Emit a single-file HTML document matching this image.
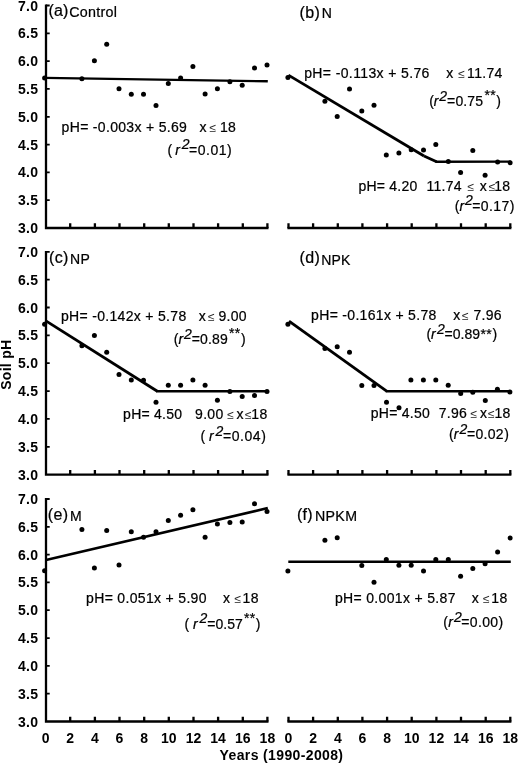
<!DOCTYPE html>
<html lang="en"><head><meta charset="utf-8"><title>Soil pH</title>
<style>html,body{margin:0;padding:0;background:#fff}svg{display:block}text{font-family:"Liberation Sans",sans-serif;fill:#000}.b{font-weight:bold;font-size:14px}.t{font-size:14px;letter-spacing:0.3px;stroke:#000;stroke-width:.22px}.le{font-size:12.5px;fill:#333}.i{font-style:italic}.ax{stroke:#000;stroke-width:2.3;fill:none;stroke-linecap:butt;stroke-linejoin:miter}.tk{stroke:#000;stroke-width:1.8;fill:none}.ln{stroke:#000;stroke-width:2.6;fill:none;stroke-linejoin:round;stroke-linecap:butt}</style></head><body>
<svg width="518" height="763" viewBox="0 0 518 763">
<rect width="518" height="763" fill="#fff"/>
<path class="ax" d="M46.0 4.6V228.0H268.5"/>
<path class="tk" d="M46.0 5.5h3.7M46.0 33.3h3.7M46.0 61.1h3.7M46.0 88.9h3.7M46.0 116.8h3.7M46.0 144.6h3.7M46.0 172.4h3.7M46.0 200.2h3.7"/>
<text class="b" x="38.4" y="10.5" text-anchor="end" style="letter-spacing:.3px">7.0</text>
<text class="b" x="38.4" y="38.3" text-anchor="end" style="letter-spacing:.3px">6.5</text>
<text class="b" x="38.4" y="66.1" text-anchor="end" style="letter-spacing:.3px">6.0</text>
<text class="b" x="38.4" y="93.9" text-anchor="end" style="letter-spacing:.3px">5.5</text>
<text class="b" x="38.4" y="121.8" text-anchor="end" style="letter-spacing:.3px">5.0</text>
<text class="b" x="38.4" y="149.6" text-anchor="end" style="letter-spacing:.3px">4.5</text>
<text class="b" x="38.4" y="177.4" text-anchor="end" style="letter-spacing:.3px">4.0</text>
<text class="b" x="38.4" y="205.2" text-anchor="end" style="letter-spacing:.3px">3.5</text>
<text class="b" x="38.4" y="233.0" text-anchor="end" style="letter-spacing:.3px">3.0</text>
<path class="ax" d="M70.2 228.0v-4.7M94.9 228.0v-4.7M119.5 228.0v-4.7M144.2 228.0v-4.7M168.8 228.0v-4.7M193.5 228.0v-4.7M218.1 228.0v-4.7M242.8 228.0v-4.7M267.4 228.0v-4.7"/>
<path class="ln" style="stroke-width:2.4" d="M45.0 77.9L267.8 81.3"/>
<g><circle cx="44.6" cy="77.9" r="2.5"/><circle cx="81.9" cy="78.8" r="2.5"/><circle cx="94.4" cy="60.7" r="2.5"/><circle cx="106.7" cy="44.3" r="2.5"/><circle cx="119.0" cy="88.8" r="2.5"/><circle cx="131.3" cy="94.3" r="2.5"/><circle cx="143.5" cy="94.3" r="2.5"/><circle cx="156.0" cy="105.4" r="2.5"/><circle cx="168.3" cy="83.4" r="2.5"/><circle cx="180.6" cy="77.9" r="2.5"/><circle cx="192.9" cy="66.5" r="2.5"/><circle cx="205.1" cy="94.1" r="2.5"/><circle cx="217.4" cy="88.8" r="2.5"/><circle cx="229.9" cy="81.8" r="2.5"/><circle cx="242.2" cy="85.3" r="2.5"/><circle cx="254.5" cy="67.9" r="2.5"/><circle cx="267.0" cy="65.1" r="2.5"/></g>
<path class="ax" d="M287.4 228.0H511.4"/>
<path class="ax" d="M288.5 228.0v-4.7M313.1 228.0v-4.7M337.8 228.0v-4.7M362.4 228.0v-4.7M387.1 228.0v-4.7M411.7 228.0v-4.7M436.4 228.0v-4.7M461.0 228.0v-4.7M485.7 228.0v-4.7M510.3 228.0v-4.7"/>
<path class="ln" style="stroke-width:2.85" d="M288.4 75.1L424.0 156.0"/>
<path class="ln" style="stroke-width:2.85" d="M424.0 156.0L436.6 161.7"/>
<path class="ln" style="stroke-width:2.4" d="M435.4 161.7L510.8 161.6"/>
<g><circle cx="287.9" cy="77.5" r="2.5"/><circle cx="324.9" cy="101.2" r="2.5"/><circle cx="337.2" cy="116.5" r="2.5"/><circle cx="349.5" cy="88.9" r="2.5"/><circle cx="361.8" cy="110.9" r="2.5"/><circle cx="374.0" cy="105.3" r="2.5"/><circle cx="386.3" cy="155.0" r="2.5"/><circle cx="398.9" cy="153.0" r="2.5"/><circle cx="411.2" cy="149.7" r="2.5"/><circle cx="423.5" cy="150.0" r="2.5"/><circle cx="435.8" cy="144.4" r="2.5"/><circle cx="448.3" cy="161.6" r="2.5"/><circle cx="460.6" cy="172.4" r="2.5"/><circle cx="472.8" cy="150.4" r="2.5"/><circle cx="485.1" cy="175.2" r="2.5"/><circle cx="497.6" cy="162.0" r="2.5"/><circle cx="510.1" cy="162.7" r="2.5"/></g>
<path class="ax" d="M46.0 250.9V474.6H268.5"/>
<path class="tk" d="M46.0 251.8h3.7M46.0 279.7h3.7M46.0 307.5h3.7M46.0 335.4h3.7M46.0 363.2h3.7M46.0 391.1h3.7M46.0 418.9h3.7M46.0 446.8h3.7"/>
<text class="b" x="38.4" y="256.8" text-anchor="end" style="letter-spacing:.3px">7.0</text>
<text class="b" x="38.4" y="284.7" text-anchor="end" style="letter-spacing:.3px">6.5</text>
<text class="b" x="38.4" y="312.5" text-anchor="end" style="letter-spacing:.3px">6.0</text>
<text class="b" x="38.4" y="340.4" text-anchor="end" style="letter-spacing:.3px">5.5</text>
<text class="b" x="38.4" y="368.2" text-anchor="end" style="letter-spacing:.3px">5.0</text>
<text class="b" x="38.4" y="396.1" text-anchor="end" style="letter-spacing:.3px">4.5</text>
<text class="b" x="38.4" y="423.9" text-anchor="end" style="letter-spacing:.3px">4.0</text>
<text class="b" x="38.4" y="451.8" text-anchor="end" style="letter-spacing:.3px">3.5</text>
<text class="b" x="38.4" y="479.6" text-anchor="end" style="letter-spacing:.3px">3.0</text>
<path class="ax" d="M70.2 474.6v-4.7M94.9 474.6v-4.7M119.5 474.6v-4.7M144.2 474.6v-4.7M168.8 474.6v-4.7M193.5 474.6v-4.7M218.1 474.6v-4.7M242.8 474.6v-4.7M267.4 474.6v-4.7"/>
<path class="ln" style="stroke-width:2.85" d="M45.5 320.6L157.3 391.3"/>
<path class="ln" style="stroke-width:2.4" d="M156.1 391.3L267.8 391.3"/>
<g><circle cx="44.6" cy="324.3" r="2.5"/><circle cx="81.9" cy="345.8" r="2.5"/><circle cx="94.4" cy="335.6" r="2.5"/><circle cx="106.7" cy="352.3" r="2.5"/><circle cx="119.0" cy="374.5" r="2.5"/><circle cx="131.3" cy="379.9" r="2.5"/><circle cx="143.5" cy="380.3" r="2.5"/><circle cx="156.0" cy="402.2" r="2.5"/><circle cx="168.3" cy="385.3" r="2.5"/><circle cx="180.6" cy="385.3" r="2.5"/><circle cx="192.9" cy="380.0" r="2.5"/><circle cx="205.1" cy="385.3" r="2.5"/><circle cx="217.4" cy="400.2" r="2.5"/><circle cx="229.9" cy="391.6" r="2.5"/><circle cx="242.2" cy="396.5" r="2.5"/><circle cx="254.5" cy="395.5" r="2.5"/><circle cx="267.0" cy="391.6" r="2.5"/></g>
<path class="ax" d="M287.4 474.6H511.4"/>
<path class="ax" d="M288.5 474.6v-4.7M313.1 474.6v-4.7M337.8 474.6v-4.7M362.4 474.6v-4.7M387.1 474.6v-4.7M411.7 474.6v-4.7M436.4 474.6v-4.7M461.0 474.6v-4.7M485.7 474.6v-4.7M510.3 474.6v-4.7"/>
<path class="ln" style="stroke-width:2.85" d="M289.0 321.2L387.0 391.3"/>
<path class="ln" style="stroke-width:2.4" d="M385.8 391.3L510.8 391.3"/>
<g><circle cx="287.9" cy="324.3" r="2.5"/><circle cx="324.9" cy="348.6" r="2.5"/><circle cx="337.2" cy="346.7" r="2.5"/><circle cx="349.5" cy="352.3" r="2.5"/><circle cx="361.8" cy="385.4" r="2.5"/><circle cx="374.0" cy="385.4" r="2.5"/><circle cx="386.5" cy="402.2" r="2.5"/><circle cx="399.0" cy="407.8" r="2.5"/><circle cx="410.9" cy="380.1" r="2.5"/><circle cx="423.4" cy="380.1" r="2.5"/><circle cx="435.8" cy="380.1" r="2.5"/><circle cx="448.2" cy="385.3" r="2.5"/><circle cx="460.7" cy="393.6" r="2.5"/><circle cx="472.8" cy="392.3" r="2.5"/><circle cx="485.3" cy="400.4" r="2.5"/><circle cx="497.4" cy="389.3" r="2.5"/><circle cx="509.9" cy="392.0" r="2.5"/></g>
<path class="ax" d="M46.0 498.1V721.5H268.5"/>
<path class="tk" d="M46.0 499.0h3.7M46.0 526.8h3.7M46.0 554.6h3.7M46.0 582.4h3.7M46.0 610.2h3.7M46.0 638.1h3.7M46.0 665.9h3.7M46.0 693.7h3.7"/>
<text class="b" x="38.4" y="504.0" text-anchor="end" style="letter-spacing:.3px">7.0</text>
<text class="b" x="38.4" y="531.8" text-anchor="end" style="letter-spacing:.3px">6.5</text>
<text class="b" x="38.4" y="559.6" text-anchor="end" style="letter-spacing:.3px">6.0</text>
<text class="b" x="38.4" y="587.4" text-anchor="end" style="letter-spacing:.3px">5.5</text>
<text class="b" x="38.4" y="615.2" text-anchor="end" style="letter-spacing:.3px">5.0</text>
<text class="b" x="38.4" y="643.1" text-anchor="end" style="letter-spacing:.3px">4.5</text>
<text class="b" x="38.4" y="670.9" text-anchor="end" style="letter-spacing:.3px">4.0</text>
<text class="b" x="38.4" y="698.7" text-anchor="end" style="letter-spacing:.3px">3.5</text>
<text class="b" x="38.4" y="726.5" text-anchor="end" style="letter-spacing:.3px">3.0</text>
<path class="ax" d="M70.2 721.5v-4.7M94.9 721.5v-4.7M119.5 721.5v-4.7M144.2 721.5v-4.7M168.8 721.5v-4.7M193.5 721.5v-4.7M218.1 721.5v-4.7M242.8 721.5v-4.7M267.4 721.5v-4.7"/>
<text class="b" x="45.6" y="743.2" text-anchor="middle">0</text>
<text class="b" x="70.2" y="743.2" text-anchor="middle">2</text>
<text class="b" x="94.9" y="743.2" text-anchor="middle">4</text>
<text class="b" x="119.5" y="743.2" text-anchor="middle">6</text>
<text class="b" x="144.2" y="743.2" text-anchor="middle">8</text>
<text class="b" x="168.8" y="743.2" text-anchor="middle">10</text>
<text class="b" x="193.5" y="743.2" text-anchor="middle">12</text>
<text class="b" x="218.1" y="743.2" text-anchor="middle">14</text>
<text class="b" x="242.8" y="743.2" text-anchor="middle">16</text>
<text class="b" x="267.4" y="743.2" text-anchor="middle">18</text>
<path class="ln" style="stroke-width:2.6" d="M46.0 559.9L267.8 508.1"/>
<g><circle cx="44.6" cy="570.7" r="2.5"/><circle cx="81.9" cy="529.5" r="2.5"/><circle cx="94.4" cy="568.1" r="2.5"/><circle cx="106.7" cy="530.6" r="2.5"/><circle cx="119.0" cy="565.1" r="2.5"/><circle cx="131.3" cy="531.8" r="2.5"/><circle cx="143.5" cy="537.3" r="2.5"/><circle cx="156.0" cy="531.8" r="2.5"/><circle cx="168.3" cy="520.6" r="2.5"/><circle cx="180.6" cy="515.3" r="2.5"/><circle cx="192.9" cy="509.8" r="2.5"/><circle cx="205.1" cy="537.3" r="2.5"/><circle cx="217.4" cy="524.1" r="2.5"/><circle cx="229.9" cy="522.5" r="2.5"/><circle cx="242.2" cy="522.0" r="2.5"/><circle cx="254.5" cy="503.7" r="2.5"/><circle cx="267.0" cy="511.6" r="2.5"/></g>
<path class="ax" d="M287.4 721.5H511.4"/>
<path class="ax" d="M288.5 721.5v-4.7M313.1 721.5v-4.7M337.8 721.5v-4.7M362.4 721.5v-4.7M387.1 721.5v-4.7M411.7 721.5v-4.7M436.4 721.5v-4.7M461.0 721.5v-4.7M485.7 721.5v-4.7M510.3 721.5v-4.7"/>
<text class="b" x="288.5" y="743.2" text-anchor="middle">0</text>
<text class="b" x="313.1" y="743.2" text-anchor="middle">2</text>
<text class="b" x="337.8" y="743.2" text-anchor="middle">4</text>
<text class="b" x="362.4" y="743.2" text-anchor="middle">6</text>
<text class="b" x="387.1" y="743.2" text-anchor="middle">8</text>
<text class="b" x="411.7" y="743.2" text-anchor="middle">10</text>
<text class="b" x="436.4" y="743.2" text-anchor="middle">12</text>
<text class="b" x="461.0" y="743.2" text-anchor="middle">14</text>
<text class="b" x="485.7" y="743.2" text-anchor="middle">16</text>
<text class="b" x="510.3" y="743.2" text-anchor="middle">18</text>
<path class="ln" style="stroke-width:2.4" d="M288.3 561.7L510.8 561.7"/>
<g><circle cx="287.9" cy="571.1" r="2.5"/><circle cx="324.9" cy="540.3" r="2.5"/><circle cx="337.2" cy="537.7" r="2.5"/><circle cx="361.8" cy="565.5" r="2.5"/><circle cx="374.0" cy="582.2" r="2.5"/><circle cx="386.3" cy="559.5" r="2.5"/><circle cx="398.9" cy="565.3" r="2.5"/><circle cx="411.2" cy="565.3" r="2.5"/><circle cx="423.5" cy="571.1" r="2.5"/><circle cx="435.8" cy="559.5" r="2.5"/><circle cx="448.3" cy="559.5" r="2.5"/><circle cx="460.6" cy="576.2" r="2.5"/><circle cx="472.8" cy="568.5" r="2.5"/><circle cx="485.1" cy="563.7" r="2.5"/><circle cx="497.6" cy="552.1" r="2.5"/><circle cx="510.1" cy="538.0" r="2.5"/></g>
<text class="b" transform="translate(11.3 364.7) rotate(-90)" text-anchor="middle" style="letter-spacing:.3px">Soil pH</text>
<text class="b" x="281.5" y="760" text-anchor="middle" style="letter-spacing:.37px">Years (1990-2008)</text>
<text class="t" x="48.4" y="16.2" textLength="20.0" lengthAdjust="spacing" style="font-size:16px;letter-spacing:0">(a)</text>
<text class="t" x="69.2" y="16.6" textLength="47.7" lengthAdjust="spacing" style="font-size:14.3px;letter-spacing:0">Control</text>
<text class="t" x="299.4" y="18.0" textLength="20.4" lengthAdjust="spacing" style="font-size:16px;letter-spacing:0">(b)</text>
<text class="t" x="321.8" y="18.0">N</text>
<text class="t" x="49.0" y="262.5" textLength="19.3" lengthAdjust="spacing" style="font-size:16px;letter-spacing:0">(c)</text>
<text class="t" x="70.0" y="264.2">NP</text>
<text class="t" x="299.6" y="263.0" textLength="20.2" lengthAdjust="spacing" style="font-size:16px;letter-spacing:0">(d)</text>
<text class="t" x="321.3" y="265.0" textLength="29.1" lengthAdjust="spacing" style="letter-spacing:0">NPK</text>
<text class="t" x="47.8" y="520.0" textLength="20.4" lengthAdjust="spacing" style="font-size:16px;letter-spacing:0">(e)</text>
<text class="t" x="69.9" y="521.1">M</text>
<text class="t" x="296.9" y="520.2" textLength="15.6" lengthAdjust="spacing" style="font-size:16px;letter-spacing:0">(f)</text>
<text class="t" x="314.9" y="520.8" textLength="42.1" lengthAdjust="spacing" style="font-size:14.2px;letter-spacing:0">NPKM</text>
<text class="t" x="61.6" y="131.9" textLength="125.3" lengthAdjust="spacing" style="letter-spacing:0">pH= -0.003x + 5.69</text>
<text class="t" x="199.6" y="131.9">x</text>
<text class="t" x="209.4" y="131.9" style="font-size:12px;fill:#222;stroke:none">≤</text>
<text class="t" x="219.9" y="131.9">18</text>
<text class="t" x="167.6" y="154.6">(</text>
<text class="t" x="175.2" y="154.6" style="font-style:italic">r</text>
<text class="t" x="181.7" y="149.3" style="font-style:italic">2</text>
<text class="t" x="189.0" y="154.6" textLength="37.6" lengthAdjust="spacing" style="letter-spacing:0">=0.01</text>
<text class="t" x="227.0" y="154.6">)</text>
<text class="t" x="304.2" y="78.0" textLength="125.2" lengthAdjust="spacing" style="letter-spacing:0">pH= -0.113x + 5.76</text>
<text class="t" x="446.2" y="78.0">x</text>
<text class="t" x="458.2" y="78.0" style="font-size:12px;fill:#222;stroke:none">≤</text>
<text class="t" x="467.1" y="78.0">11.74</text>
<text class="t" x="429.2" y="105.6">(</text>
<text class="t" x="433.7" y="105.6" style="font-style:italic">r</text>
<text class="t" x="439.2" y="100.6" style="font-style:italic">2</text>
<text class="t" x="447.1" y="105.6" textLength="36.0" lengthAdjust="spacing" style="letter-spacing:0">=0.75</text>
<text class="t" x="484.4" y="99.6">**</text>
<text class="t" x="496.3" y="105.6">)</text>
<text class="t" x="358.4" y="190.8" textLength="58.9" lengthAdjust="spacing" style="letter-spacing:0">pH= 4.20</text>
<text class="t" x="426.4" y="190.8">11.74</text>
<text class="t" x="467.5" y="190.8" style="font-size:12px;fill:#222;stroke:none">≤</text>
<text class="t" x="479.8" y="190.8">x</text>
<text class="t" x="488.8" y="190.8" style="font-size:12px;fill:#222;stroke:none">≤</text>
<text class="t" x="494.2" y="190.8">18</text>
<text class="t" x="454.7" y="211.3">(</text>
<text class="t" x="459.5" y="211.3" style="font-style:italic">r</text>
<text class="t" x="465.1" y="205.0" style="font-style:italic">2</text>
<text class="t" x="472.3" y="211.3" textLength="36.9" lengthAdjust="spacing" style="letter-spacing:0">=0.17</text>
<text class="t" x="509.8" y="211.3">)</text>
<text class="t" x="61.0" y="320.5" textLength="125.2" lengthAdjust="spacing" style="letter-spacing:0">pH= -0.142x + 5.78</text>
<text class="t" x="198.7" y="320.5">x</text>
<text class="t" x="208.0" y="320.5" style="font-size:12px;fill:#222;stroke:none">≤</text>
<text class="t" x="218.5" y="320.5">9.00</text>
<text class="t" x="173.7" y="344.4">(</text>
<text class="t" x="178.4" y="344.4" style="font-style:italic">r</text>
<text class="t" x="183.9" y="339.1" style="font-style:italic">2</text>
<text class="t" x="191.7" y="344.4" textLength="36.0" lengthAdjust="spacing" style="letter-spacing:0">=0.89</text>
<text class="t" x="229.1" y="338.4">**</text>
<text class="t" x="241.0" y="344.4">)</text>
<text class="t" x="123.1" y="418.6" textLength="58.9" lengthAdjust="spacing" style="letter-spacing:0">pH= 4.50</text>
<text class="t" x="195.1" y="418.6">9.00</text>
<text class="t" x="227.2" y="418.6" style="font-size:12px;fill:#222;stroke:none">≤</text>
<text class="t" x="236.6" y="418.6">x</text>
<text class="t" x="245.1" y="418.6" style="font-size:12px;fill:#222;stroke:none">≤</text>
<text class="t" x="251.3" y="418.6">18</text>
<text class="t" x="200.6" y="441.0">(</text>
<text class="t" x="209.1" y="441.0" style="font-style:italic">r</text>
<text class="t" x="215.5" y="435.7" style="font-style:italic">2</text>
<text class="t" x="222.9" y="441.0" textLength="37.7" lengthAdjust="spacing" style="letter-spacing:0">=0.04</text>
<text class="t" x="261.3" y="441.0">)</text>
<text class="t" x="311.1" y="319.9" textLength="125.2" lengthAdjust="spacing" style="letter-spacing:0">pH= -0.161x + 5.78</text>
<text class="t" x="453.2" y="319.9">x</text>
<text class="t" x="461.9" y="319.9" style="font-size:12px;fill:#222;stroke:none">≤</text>
<text class="t" x="473.5" y="319.9">7.96</text>
<text class="t" x="426.4" y="339.1">(</text>
<text class="t" x="431.1" y="339.1" style="font-style:italic">r</text>
<text class="t" x="437.1" y="333.8" style="font-style:italic">2</text>
<text class="t" x="444.5" y="339.1" textLength="35.6" lengthAdjust="spacing" style="letter-spacing:0">=0.89</text>
<text class="t" x="480.5" y="339.1">**</text>
<text class="t" x="492.5" y="339.1">)</text>
<text class="t" x="370.8" y="418.1" textLength="58.9" lengthAdjust="spacing" style="letter-spacing:0">pH= 4.50</text>
<text class="t" x="438.7" y="418.1">7.96</text>
<text class="t" x="470.6" y="418.1" style="font-size:12px;fill:#222;stroke:none">≤</text>
<text class="t" x="480.0" y="418.1">x</text>
<text class="t" x="488.0" y="418.1" style="font-size:12px;fill:#222;stroke:none">≤</text>
<text class="t" x="494.4" y="418.1">18</text>
<text class="t" x="449.1" y="439.0">(</text>
<text class="t" x="453.8" y="439.0" style="font-style:italic">r</text>
<text class="t" x="459.6" y="433.7" style="font-style:italic">2</text>
<text class="t" x="467.0" y="439.0" textLength="36.5" lengthAdjust="spacing" style="letter-spacing:0">=0.02</text>
<text class="t" x="504.2" y="439.0">)</text>
<text class="t" x="86.1" y="603.4" textLength="120.4" lengthAdjust="spacing" style="letter-spacing:0">pH= 0.051x + 5.90</text>
<text class="t" x="223.1" y="603.4">x</text>
<text class="t" x="234.5" y="603.4" style="font-size:12px;fill:#222;stroke:none">≤</text>
<text class="t" x="242.6" y="603.4">18</text>
<text class="t" x="184.5" y="628.6">(</text>
<text class="t" x="193.0" y="628.6" style="font-style:italic">r</text>
<text class="t" x="199.4" y="623.3" style="font-style:italic">2</text>
<text class="t" x="207.3" y="628.6" textLength="35.6" lengthAdjust="spacing" style="letter-spacing:0">=0.57</text>
<text class="t" x="243.9" y="622.6">**</text>
<text class="t" x="255.7" y="628.6">)</text>
<text class="t" x="334.9" y="603.2" textLength="120.6" lengthAdjust="spacing" style="letter-spacing:0">pH= 0.001x + 5.87</text>
<text class="t" x="471.8" y="603.2">x</text>
<text class="t" x="483.0" y="603.2" style="font-size:12px;fill:#222;stroke:none">≤</text>
<text class="t" x="491.3" y="603.2">18</text>
<text class="t" x="443.3" y="627.0">(</text>
<text class="t" x="448.2" y="627.0" style="font-style:italic">r</text>
<text class="t" x="454.1" y="621.7" style="font-style:italic">2</text>
<text class="t" x="461.3" y="627.0" textLength="36.8" lengthAdjust="spacing" style="letter-spacing:0">=0.00</text>
<text class="t" x="498.5" y="627.0">)</text>
</svg></body></html>
